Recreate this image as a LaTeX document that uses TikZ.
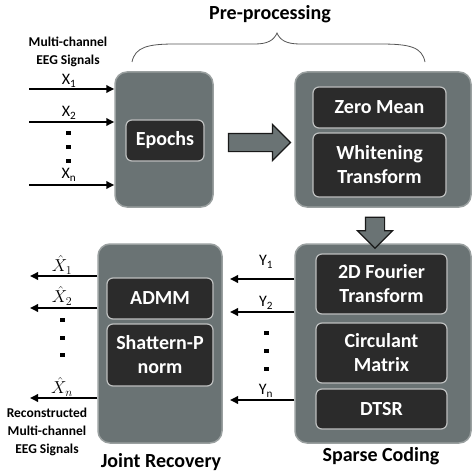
\documentclass[tikz,border=0pt]{standalone}
\usepackage{fontspec}
\setmainfont{Carlito}
\usetikzlibrary{arrows.meta,shapes.arrows}
\definecolor{outerfill}{HTML}{6A7374}
\definecolor{outerline}{HTML}{9AA0A0}
\definecolor{innerfill}{HTML}{2B2B2B}
\definecolor{innerline}{HTML}{BDBFBF}
\definecolor{bracecol}{HTML}{555555}
\begin{document}
\begin{tikzpicture}[x=1pt,y=-1pt,
  outerbox/.style={draw=outerline, fill=outerfill, line width=1.5pt, rounded corners=12pt, inner sep=0pt},
  innerbox/.style={draw=innerline, fill=innerfill, line width=1.2pt, rounded corners=6pt, inner sep=0pt,
    text=white, align=center, font=\bfseries\fontsize{20}{24}\selectfont},
  title/.style={font=\bfseries\fontsize{20}{24}\selectfont, text=black},
  small/.style={font=\bfseries\fontsize{13.5}{18}\selectfont, align=center, text=black},
  sub/.style={font=\fontsize{16}{18}\selectfont, inner sep=0pt},
  hatsub/.style={font=\fontsize{17}{18}\selectfont, inner sep=0pt},
  dotmark/.style={fill=black, draw=none, inner sep=0pt, minimum width=5pt, minimum height=4.5pt},
  sig/.style={line width=1.8pt, -{Triangle[length=8pt,width=7.5pt]}},
  blockarrow/.style={single arrow, draw=black!90, fill=outerfill, line width=1.2pt, inner sep=0pt, outer sep=0pt}
]
\useasboundingbox[fill=white] (0,0) rectangle (474,476);

% title and brace
\node[title] (pretitle) at (270,14) {Pre-processing};
\draw[bracecol, line width=0.8pt] (132,62) .. controls (135,47) and (148,44) .. (175,44)
  -- (255,44) .. controls (268,44) and (274,40) .. (277,33)
  .. controls (280,40) and (286,44) .. (300,44) -- (380,44)
  .. controls (410,44) and (422,47) .. (425,62);

% Epochs block
\node[outerbox, minimum width=98pt, minimum height=135pt] (ep) at (164,139.5) {};
\node[innerbox, minimum width=78pt, minimum height=41pt] (epochs) at (165,140.5) {Epochs};

% Pre-processing block
\node[outerbox, minimum width=176pt, minimum height=135pt] (pre) at (383,139.5) {};
\node[innerbox, minimum width=133pt, minimum height=41pt] (zero) at (379.5,107.5) {Zero Mean};
\node[innerbox, minimum width=133pt, minimum height=64pt] (white) at (379.5,165) {Whitening\\Transform};

% Sparse coding block
\node[outerbox, minimum width=176pt, minimum height=199pt] (sp) at (383,343.5) {};
\node[innerbox, minimum width=131pt, minimum height=60pt] (fourier) at (381.5,284) {2D Fourier\\Transform};
\node[innerbox, minimum width=131pt, minimum height=60pt] (circ) at (381.5,353) {Circulant\\Matrix};
\node[innerbox, minimum width=131pt, minimum height=40pt] (dtsr) at (381.5,409) {DTSR};
\node[title] (sptitle) at (381,456) {Sparse Coding};

% Joint recovery block
\node[outerbox, minimum width=124pt, minimum height=199pt] (jr) at (160,343.5) {};
\node[innerbox, minimum width=106pt, minimum height=41pt] (admm) at (160,298.5) {ADMM};
\node[innerbox, minimum width=106pt, minimum height=62pt] (shat) at (160,355) {Shattern-P\\norm};
\node[title] (jrtitle) at (161,462) {Joint Recovery};

% block arrows
\node[blockarrow, minimum height=62pt, single arrow head extend=9pt] (arrR) at (255,142.5) {\rule{0pt}{17pt}};
\node[blockarrow, minimum height=31pt, single arrow head extend=8pt, rotate=-90] (arrD) at (375,228) {\rule{0pt}{18pt}};

% input signals
\node[small] (inlab) at (68,52) {Multi-channel\\EEG Signals};
\coordinate (x1) at (29,89);
\coordinate (x2) at (29,122);
\coordinate (xn) at (29,185);
\draw[sig] (x1) -- (x1 -| ep.west);
\draw[sig] (x2) -- (x2 -| ep.west);
\draw[sig] (xn) -- (xn -| ep.west);
\node[sub] (lx1) at (69,81) {X\textsubscript{1}};
\node[sub] (lx2) at (69,113) {X\textsubscript{2}};
\node[dotmark] (dx1) at (68,133) {};
\node[dotmark] (dx2) at (68,147) {};
\node[dotmark] (dx3) at (68,161) {};
\node[sub] (lxn) at (69,175) {X\textsubscript{n}};

% coded signals
\coordinate (y1) at (230,279);
\coordinate (y2) at (230,312);
\coordinate (yn) at (230,400);
\draw[sig] (y1 -| sp.west) -- (y1);
\draw[sig] (y2 -| sp.west) -- (y2);
\draw[sig] (yn -| sp.west) -- (yn);
\node[sub] (ly1) at (266,262) {Y\textsubscript{1}};
\node[sub] (ly2) at (266,303) {Y\textsubscript{2}};
\node[dotmark] (dy1) at (266,333) {};
\node[dotmark] (dy2) at (266,351) {};
\node[dotmark] (dy3) at (266,369) {};
\node[sub] (lyn) at (266,391) {Y\textsubscript{n}};

% reconstructed signals
\coordinate (r1) at (30,276);
\coordinate (r2) at (30,308);
\coordinate (rn) at (30,398);
\draw[sig] (r1 -| jr.west) -- (r1);
\draw[sig] (r2 -| jr.west) -- (r2);
\draw[sig] (rn -| jr.west) -- (rn);
\node[hatsub] (lr1) at (62,265) {$\hat{X}_1$};
\node[hatsub] (lr2) at (62,296) {$\hat{X}_2$};
\node[dotmark] (dr1) at (62,320) {};
\node[dotmark] (dr2) at (62,338) {};
\node[dotmark] (dr3) at (62,355) {};
\node[hatsub] (lrn) at (62,387) {$\hat{X}_n$};
\node[small] (outlab) at (47,432) {Reconstructed\\Multi-channel\\EEG Signals};
\end{tikzpicture}
\end{document}
